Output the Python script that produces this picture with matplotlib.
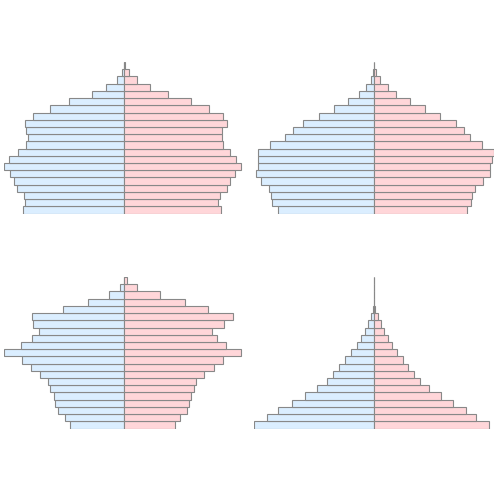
import numpy as np
import matplotlib
matplotlib.use("Agg")
import matplotlib.pyplot as plt

# Age groups 0-4 ... 100+ (bottom to top)
ages = ["0-4", "5-9", "10-14", "15-19", "20-24", "25-29", "30-34", "35-39",
        "40-44", "45-49", "50-54", "55-59", "60-64", "65-69", "70-74",
        "75-79", "80-84", "85-89", "90-94", "95-99", "100+"]

# Panel 1 (top left)
male_1 = [303, 297, 300, 321, 330, 342, 360, 345, 318, 294, 288, 294, 297,
          273, 222, 165, 96, 54, 21, 6, 1]
female_1 = [291, 282, 288, 309, 318, 333, 351, 336, 318, 297, 294, 294, 309,
            297, 255, 201, 132, 78, 39, 15, 3]

# Panel 2 (top right)
male_2 = [291, 309, 312, 318, 342, 357, 351, 351, 351, 315, 270, 246, 216,
          168, 123, 81, 45, 24, 9, 3, 0.5]
female_2 = [279, 294, 297, 306, 330, 351, 351, 357, 363, 327, 291, 270, 246,
            198, 153, 108, 66, 42, 18, 6, 0.5]

# Panel 3 (bottom left)
male_3 = [162, 177, 198, 207, 210, 222, 228, 252, 279, 306, 360, 309, 276,
          255, 273, 276, 183, 108, 45, 12, 1]
female_3 = [153, 168, 189, 195, 201, 210, 216, 240, 270, 297, 351, 306, 279,
            264, 300, 327, 252, 183, 108, 39, 9]

# Panel 4 (bottom right)
male_4 = [360, 321, 288, 246, 207, 171, 141, 123, 105, 87, 69, 51, 39, 27,
          18, 9, 3, 0, 0, 0, 0]
female_4 = [345, 306, 276, 237, 201, 165, 138, 120, 102, 87, 69, 54, 42, 30,
            21, 12, 3, 0, 0, 0, 0]

panels = [(male_1, female_1), (male_2, female_2),
          (male_3, female_3), (male_4, female_4)]
positions = [[0.0086, 0.573, 0.48, 0.303],
             [0.5086, 0.573, 0.48, 0.303],
             [0.0086, 0.143, 0.48, 0.303],
             [0.5086, 0.143, 0.48, 0.303]]

fig = plt.figure(figsize=(5, 5), dpi=100)
y = np.arange(len(ages))

for (male, female), pos in zip(panels, positions):
    ax = fig.add_axes(pos)
    ax.barh(y, -np.array(male), height=1.0, color="#dbeeff",
            edgecolor="#888888", linewidth=0.8)
    ax.barh(y, female, height=1.0, color="#ffd6d9",
            edgecolor="#888888", linewidth=0.8)
    m = max(max(male), max(female))
    ax.set_xlim(-m, m)
    ax.set_ylim(-0.5, len(ages) - 0.5)
    ax.axis("off")

fig.savefig("out.png", dpi=100)
